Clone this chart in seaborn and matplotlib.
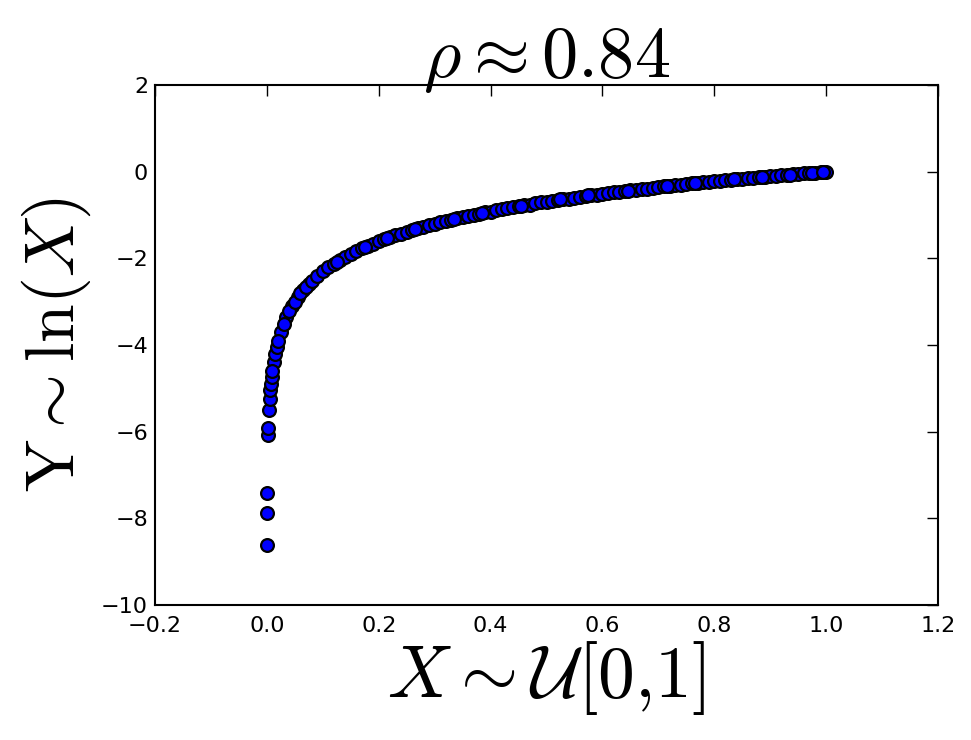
import matplotlib
matplotlib.use("Agg")
import matplotlib.pyplot as plt
import seaborn as sns
import pandas as pd

x_low = [0.00018, 0.00038, 0.0006, 0.0023, 0.0027, 0.0041, 0.0052, 0.0064, 0.0074,
         0.0087, 0.0123, 0.015, 0.0174, 0.0247, 0.035, 0.045, 0.055, 0.065, 0.075]
y_low = [-8.62, -7.88, -7.42, -6.08, -5.92, -5.50, -5.25, -5.05, -4.90,
         -4.74, -4.40, -4.20, -4.05, -3.70, -3.35, -3.10, -2.90, -2.73, -2.59]

# samples along the rest of the curve
x_main = [0.01, 0.02, 0.03, 0.04, 0.05, 0.06, 0.07, 0.08, 0.09, 0.10,
          0.11, 0.12, 0.13, 0.14, 0.15, 0.16, 0.17, 0.18, 0.19, 0.20,
          0.21, 0.22, 0.23, 0.24, 0.25, 0.26, 0.27, 0.28, 0.29, 0.30,
          0.31, 0.32, 0.33, 0.34, 0.35, 0.36, 0.37, 0.38, 0.39, 0.40,
          0.41, 0.42, 0.43, 0.44, 0.45, 0.46, 0.47, 0.48, 0.49, 0.50,
          0.51, 0.52, 0.53, 0.54, 0.55, 0.56, 0.57, 0.58, 0.59, 0.60,
          0.61, 0.62, 0.63, 0.64, 0.65, 0.66, 0.67, 0.68, 0.69, 0.70,
          0.71, 0.72, 0.73, 0.74, 0.75, 0.76, 0.77, 0.78, 0.79, 0.80,
          0.81, 0.82, 0.83, 0.84, 0.85, 0.86, 0.87, 0.88, 0.89, 0.90,
          0.91, 0.92, 0.93, 0.94, 0.95, 0.96, 0.97, 0.98, 0.99, 1.00]
y_main = [-4.61, -3.91, -3.51, -3.22, -3.00, -2.81, -2.66, -2.53, -2.41, -2.30,
          -2.21, -2.12, -2.04, -1.97, -1.90, -1.83, -1.77, -1.71, -1.66, -1.61,
          -1.56, -1.51, -1.47, -1.43, -1.39, -1.35, -1.31, -1.27, -1.24, -1.20,
          -1.17, -1.14, -1.11, -1.08, -1.05, -1.02, -0.99, -0.97, -0.94, -0.92,
          -0.89, -0.87, -0.84, -0.82, -0.80, -0.78, -0.76, -0.73, -0.71, -0.69,
          -0.67, -0.65, -0.63, -0.62, -0.60, -0.58, -0.56, -0.54, -0.53, -0.51,
          -0.49, -0.48, -0.46, -0.45, -0.43, -0.42, -0.40, -0.39, -0.37, -0.36,
          -0.34, -0.33, -0.31, -0.30, -0.29, -0.27, -0.26, -0.25, -0.24, -0.22,
          -0.21, -0.20, -0.19, -0.17, -0.16, -0.15, -0.14, -0.13, -0.12, -0.11,
          -0.09, -0.08, -0.07, -0.06, -0.05, -0.04, -0.03, -0.02, -0.01, 0.00]

# extra in-between samples (irregular spacing as in the picture)
x_extra = [0.125, 0.175, 0.215, 0.265, 0.335, 0.385, 0.455, 0.525, 0.575,
           0.645, 0.715, 0.765, 0.835, 0.885, 0.935, 0.975, 0.995]
y_extra = [-2.08, -1.74, -1.54, -1.33, -1.09, -0.95, -0.79, -0.64, -0.55,
           -0.44, -0.34, -0.27, -0.18, -0.12, -0.07, -0.03, -0.01]

x_ticks = [-0.2, 0.0, 0.2, 0.4, 0.6, 0.8, 1.0, 1.2]
y_ticks = [-10, -8, -6, -4, -2, 0, 2]

title_text = r"$\rho \approx 0.84$"
xlabel_text = r"$X \sim \mathcal{U}[0{,}1]$"
ylabel_text = r"$\mathrm{Y} \sim \ln(X)$"

sns.set_style("white")
plt.rcParams["font.family"] = ["DejaVu Sans"]
plt.rcParams["mathtext.fontset"] = "cm"
plt.rcParams["axes.unicode_minus"] = True
plt.rcParams["text.color"] = "black"
plt.rcParams["axes.labelcolor"] = "black"

df = pd.DataFrame({"x": x_low + x_main + x_extra, "y": y_low + y_main + y_extra})

fig = plt.figure(figsize=(9.71, 7.40), dpi=100)
ax = fig.add_axes([155 / 971, 1 - 605 / 740, (938 - 155) / 971, (605 - 85) / 740])

sns.scatterplot(data=df, x="x", y="y", ax=ax, color="#0000ff", edgecolor="black",
                linewidth=1.6, s=85, legend=False, zorder=3)

ax.set_xlim(-0.2, 1.2)
ax.set_ylim(-10, 2)
ax.set_xticks(x_ticks)
ax.set_yticks(y_ticks)
ax.set_xticklabels([f"{v:.1f}".replace("-", "\u2212") for v in x_ticks])
ax.set_yticklabels([f"{v}".replace("-", "\u2212") for v in y_ticks])
ax.tick_params(direction="in", top=True, right=True, length=8, width=1,
               labelsize=16, colors="black")
ax.tick_params(axis="x", pad=8)
ax.tick_params(axis="y", pad=5)
for sp in ax.spines.values():
    sp.set_color("black")
    sp.set_linewidth(1.5)

ax.set_title(title_text, fontsize=52, pad=6, color="black")
ax.set_xlabel(xlabel_text, fontsize=53, labelpad=2, color="black")
ax.set_ylabel(ylabel_text, fontsize=50, labelpad=6, color="black")

fig.savefig("out.png", dpi=100, facecolor="white")
